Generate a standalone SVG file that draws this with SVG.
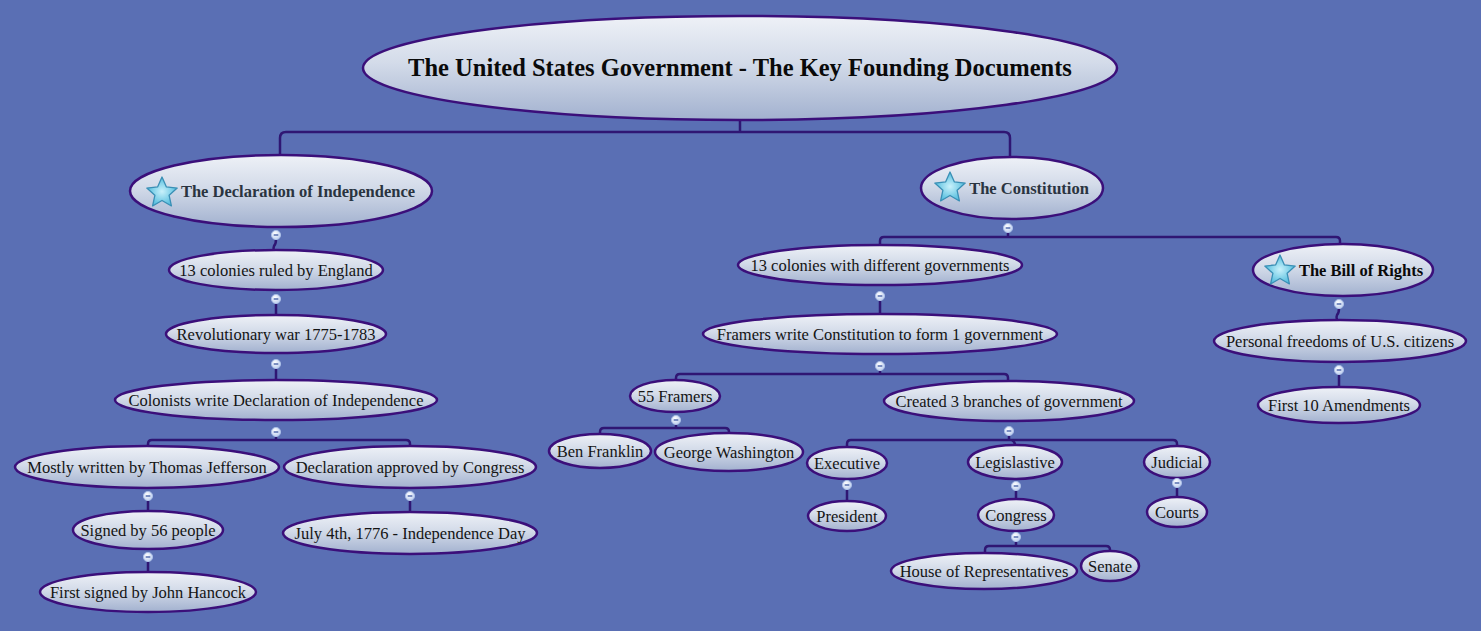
<svg xmlns="http://www.w3.org/2000/svg" width="1481" height="631" viewBox="0 0 1481 631">
<defs>
<linearGradient id="g" x1="0" y1="0" x2="0" y2="1">
<stop offset="0" stop-color="#eef1f7"/>
<stop offset="0.45" stop-color="#d3dbe9"/>
<stop offset="1" stop-color="#a2b1cf"/>
</linearGradient>
<radialGradient id="kg" cx="0.4" cy="0.35" r="0.7">
<stop offset="0" stop-color="#ffffff"/>
<stop offset="1" stop-color="#b9cbee"/>
</radialGradient>
<radialGradient id="sg" cx="0.5" cy="0.5" r="0.6">
<stop offset="0" stop-color="#c9f1fb"/>
<stop offset="1" stop-color="#3cb3d8"/>
</radialGradient>
<path id="star" d="M0,-16 L4.41,-6.07 L15.22,-4.94 L7.13,2.32 L9.4,12.94 L0,7.5 L-9.4,12.94 L-7.13,2.32 L-15.22,-4.94 L-4.41,-6.07 Z"/>
<g id="k"><circle r="4.6" fill="url(#kg)" stroke="#a9bde6" stroke-width="1"/><line x1="-2.3" y1="0" x2="2.3" y2="0" stroke="#4a63a8" stroke-width="1.4"/></g>
</defs>
<style>
.n{fill:url(#g);stroke:#3b0f7a;stroke-width:2.5}
.t{font-family:'Liberation Serif','DejaVu Serif',serif;font-size:16.5px;fill:#141414;text-anchor:middle}
.b{font-weight:bold;fill:#2a3440}
.r{font-family:'Liberation Serif','DejaVu Serif',serif;font-size:24.5px;font-weight:bold;fill:#0a0a0a;text-anchor:middle}
.c{fill:none;stroke:#2f1673;stroke-width:2.5}
.s{fill:url(#sg);stroke:#3a8fb5;stroke-width:1.3;stroke-linejoin:round}
</style>
<rect width="1481" height="631" fill="#5a6fb4"/>

<g id="connectors">
<path class="c" d="M740,120 V132"/>
<path class="c" d="M280,160 V138 Q280,132 286,132 H1004 Q1010,132 1010,138 V157"/>
<path class="c" d="M276,239 Q276,244 274,246 Q273,248 274,251"/>
<path class="c" d="M276,303 V316"/>
<path class="c" d="M276,368 V380"/>
<path class="c" d="M276,436 V440"/>
<path class="c" d="M148,447 V444 Q148,440 152,440 H406 Q410,440 410,444 V446"/>
<path class="c" d="M148,500 V510"/>
<path class="c" d="M148,561 V571"/>
<path class="c" d="M410,500 V511"/>
<path class="c" d="M1008,232 V237"/>
<path class="c" d="M880,246 V241 Q880,237 884,237 H1336 Q1340,237 1340,241 V244"/>
<path class="c" d="M1339,308 Q1339,313 1337,315 Q1336,317 1337,320"/>
<path class="c" d="M1339,374 V386"/>
<path class="c" d="M880,300 V313"/>
<path class="c" d="M880,370 V374"/>
<path class="c" d="M676,380 V378 Q676,374 680,374 H1004 Q1008,374 1008,378 V381"/>
<path class="c" d="M676,424 V428"/>
<path class="c" d="M600,433 V432 Q600,428 604,428 H725 Q729,428 729,432 V433"/>
<path class="c" d="M1009,435 V440"/>
<path class="c" d="M847,446 V444 Q847,440 851,440 H1173 Q1177,440 1177,444 V445"/>
<path class="c" d="M1012,440 Q1015,442 1015,445"/>
<path class="c" d="M847,489 V500"/>
<path class="c" d="M1016,490 V498"/>
<path class="c" d="M1177,487 V496"/>
<path class="c" d="M1016,541 V546"/>
<path class="c" d="M985,553 V550 Q985,546 989,546 H1106 Q1110,546 1110,550 V551"/>
</g>

<g id="root"><ellipse class="n" cx="740" cy="68" rx="377" ry="52"/><text class="r" x="740" y="76">The United States Government - The Key Founding Documents</text></g>

<g id="declaration"><ellipse class="n" cx="281" cy="191" rx="151" ry="36"/><use href="#star" class="s" x="162" y="193"/><text class="t b" x="298" y="197">The Declaration of Independence</text><use href="#k" x="276" y="235"/></g>
<g id="d1"><ellipse class="n" cx="276" cy="270" rx="107" ry="20"/><text class="t" x="276" y="276">13 colonies ruled by England</text><use href="#k" x="276" y="299"/></g>
<g id="d2"><ellipse class="n" cx="276" cy="334" rx="110" ry="19"/><text class="t" x="276" y="340">Revolutionary war 1775-1783</text><use href="#k" x="276" y="364"/></g>
<g id="d3"><ellipse class="n" cx="276" cy="400" rx="161" ry="20"/><text class="t" x="276" y="406">Colonists write Declaration of Independence</text><use href="#k" x="276" y="432"/></g>
<g id="d4"><ellipse class="n" cx="147" cy="467" rx="132" ry="21"/><text class="t" x="147" y="473">Mostly written by Thomas Jefferson</text><use href="#k" x="148" y="496"/></g>
<g id="d5"><ellipse class="n" cx="410" cy="467" rx="126" ry="21"/><text class="t" x="410" y="473">Declaration approved by Congress</text><use href="#k" x="410" y="496"/></g>
<g id="d6"><ellipse class="n" cx="148" cy="530" rx="75" ry="19"/><text class="t" x="148" y="536">Signed by 56 people</text><use href="#k" x="148" y="557"/></g>
<g id="d7"><ellipse class="n" cx="148" cy="592" rx="108" ry="20"/><text class="t" x="148" y="598">First signed by John Hancock</text></g>
<g id="d8"><ellipse class="n" cx="410" cy="533" rx="127" ry="21"/><text class="t" x="410" y="539">July 4th, 1776 - Independence Day</text></g>

<g id="constitution"><ellipse class="n" cx="1012" cy="188" rx="91" ry="31"/><use href="#star" class="s" x="950" y="188"/><text class="t b" x="1029" y="194">The Constitution</text><use href="#k" x="1008" y="228"/></g>
<g id="c1"><ellipse class="n" cx="880" cy="265" rx="142" ry="20"/><text class="t" x="880" y="271">13 colonies with different governments</text><use href="#k" x="880" y="296"/></g>
<g id="c2"><ellipse class="n" cx="880" cy="334" rx="177" ry="20"/><text class="t" x="880" y="340">Framers write Constitution to form 1 government</text><use href="#k" x="880" y="366"/></g>
<g id="c3"><ellipse class="n" cx="675" cy="396" rx="45" ry="16"/><text class="t" x="675" y="402">55 Framers</text><use href="#k" x="676" y="420"/></g>
<g id="c4"><ellipse class="n" cx="1009" cy="401" rx="125" ry="20"/><text class="t" x="1009" y="407">Created 3 branches of government</text><use href="#k" x="1009" y="431"/></g>
<g id="c5"><ellipse class="n" cx="600" cy="451" rx="51" ry="17"/><text class="t" x="600" y="457">Ben Franklin</text></g>
<g id="c6"><ellipse class="n" cx="729" cy="452" rx="74" ry="19"/><text class="t" x="729" y="458">George Washington</text></g>
<g id="c7"><ellipse class="n" cx="847" cy="463" rx="40" ry="16"/><text class="t" x="847" y="469">Executive</text><use href="#k" x="847" y="485"/></g>
<g id="c8"><ellipse class="n" cx="1015" cy="462" rx="47" ry="17"/><text class="t" x="1015" y="468">Legislastive</text><use href="#k" x="1016" y="486"/></g>
<g id="c9"><ellipse class="n" cx="1177" cy="462" rx="33" ry="16"/><text class="t" x="1177" y="468">Judicial</text><use href="#k" x="1177" y="483"/></g>
<g id="c10"><ellipse class="n" cx="847" cy="516" rx="39" ry="15"/><text class="t" x="847" y="522">President</text></g>
<g id="c11"><ellipse class="n" cx="1016" cy="515" rx="38" ry="16"/><text class="t" x="1016" y="521">Congress</text><use href="#k" x="1016" y="537"/></g>
<g id="c12"><ellipse class="n" cx="1177" cy="512" rx="30" ry="15"/><text class="t" x="1177" y="518">Courts</text></g>
<g id="c13"><ellipse class="n" cx="984" cy="571" rx="93" ry="18"/><text class="t" x="984" y="577">House of Representatives</text></g>
<g id="c14"><ellipse class="n" cx="1110" cy="566" rx="29" ry="15"/><text class="t" x="1110" y="572">Senate</text></g>

<g id="bill"><ellipse class="n" cx="1343" cy="270" rx="90" ry="26"/><use href="#star" class="s" x="1280" y="271"/><text class="t b" x="1361" y="276" style="fill:#0a0a0a">The Bill of Rights</text><use href="#k" x="1339" y="304"/></g>
<g id="b1"><ellipse class="n" cx="1340" cy="341" rx="126" ry="21"/><text class="t" x="1340" y="347">Personal freedoms of U.S. citizens</text><use href="#k" x="1339" y="370"/></g>
<g id="b2"><ellipse class="n" cx="1339" cy="405" rx="81" ry="18"/><text class="t" x="1339" y="411">First 10 Amendments</text></g>
</svg>
